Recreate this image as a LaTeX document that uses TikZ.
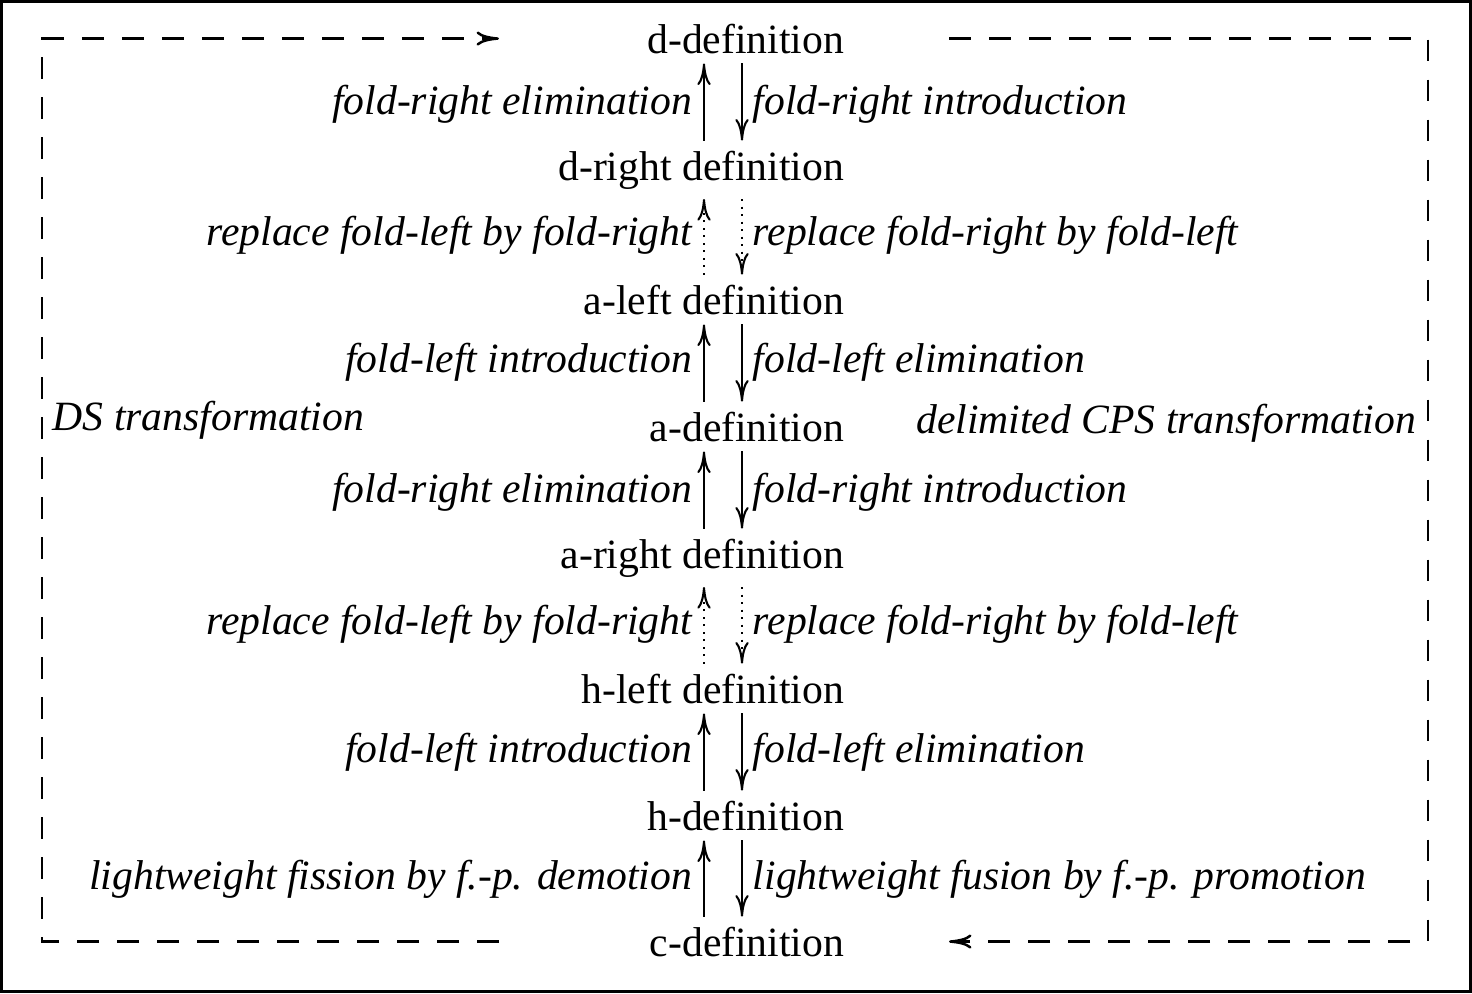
\documentclass[tikz,border=0pt]{standalone}
\usepackage{fontspec}
\setmainfont{Liberation Serif}
\usetikzlibrary{arrows.meta}
\begin{document}
\begin{tikzpicture}[x=0.24pt,y=-0.24pt,
  defn/.style={anchor=base east, inner xsep=0pt, inner ysep=2.2pt, font=\fontsize{10}{12}\selectfont},
  lab/.style={inner sep=0pt, font=\fontsize{10}{12}\selectfont\itshape},
  labl/.style={lab, anchor=base east},
  labr/.style={lab, anchor=base west},
  arr/.style={line width=0.5pt, -{To[length=5.2pt,width=3.2pt]}},
  darr/.style={arr, dash pattern=on 0.5pt off 1.3pt},
  transf/.style={line width=0.6pt, dash pattern=on 5.2pt off 4.4pt, -{To[length=5.4pt,width=3.4pt]}}
]
\useasboundingbox (0,0) rectangle (1472,993);
\draw[line width=0.7pt] (1.5,1.5) rectangle (1470.5,991.5);

\coordinate (ux) at (704,0);
\coordinate (dx) at (742,0);
\coordinate (lx) at (499,0);
\coordinate (rx) at (949,0);
\coordinate (L) at (42,0);
\coordinate (R) at (1428,0);

\node[defn] (ddef)   at (845,53)  {d-definition};
\node[defn] (dright) at (845,180) {d-right definition};
\node[defn] (aleft)  at (845,314) {a-left definition};
\node[defn] (adef)   at (845,441) {a-definition};
\node[defn] (aright) at (845,568) {a-right definition};
\node[defn] (hleft)  at (845,703) {h-left definition};
\node[defn] (hdef)   at (845,830) {h-definition};
\node[defn] (cdef)   at (845,956) {c-definition};

% row 1
\draw[arr] (dright.north -| ux) -- (ddef.south -| ux);
\draw[arr] (ddef.south -| dx) -- (dright.north -| dx);
\node[labl] (l1) at (693,114) {fold-right elimination};
\node[labr] (r1) at (752,114) {fold-right introduction};
% row 2
\draw[darr] (aleft.north -| ux) -- (dright.south -| ux);
\draw[darr] (dright.south -| dx) -- (aleft.north -| dx);
\node[labl] (l2) at (693,245) {replace fold-left by fold-right};
\node[labr] (r2) at (752,245) {replace fold-right by fold-left};
% row 3
\draw[arr] (adef.north -| ux) -- (aleft.south -| ux);
\draw[arr] (aleft.south -| dx) -- (adef.north -| dx);
\node[labl] (l3) at (693,372) {fold-left introduction};
\node[labr] (r3) at (752,372) {fold-left elimination};
% row 4
\draw[arr] (aright.north -| ux) -- (adef.south -| ux);
\draw[arr] (adef.south -| dx) -- (aright.north -| dx);
\node[labl] (l4) at (693,502) {fold-right elimination};
\node[labr] (r4) at (752,502) {fold-right introduction};
% row 5
\draw[darr] (hleft.north -| ux) -- (aright.south -| ux);
\draw[darr] (aright.south -| dx) -- (hleft.north -| dx);
\node[labl] (l5) at (693,634) {replace fold-left by fold-right};
\node[labr] (r5) at (752,634) {replace fold-right by fold-left};
% row 6
\draw[arr] (hdef.north -| ux) -- (hleft.south -| ux);
\draw[arr] (hleft.south -| dx) -- (hdef.north -| dx);
\node[labl] (l6) at (693,762) {fold-left introduction};
\node[labr] (r6) at (752,762) {fold-left elimination};
% row 7
\draw[arr] (cdef.north -| ux) -- (hdef.south -| ux);
\draw[arr] (hdef.south -| dx) -- (cdef.north -| dx);
\node[labl] (l7) at (693,889) {lightweight fission by f.-p. demotion};
\node[labr] (r7) at (752,889) {lightweight fusion by f.-p. promotion};

% side transformations
\node[lab, anchor=base west] (ds) at (52,430) {DS transformation};
\node[lab, anchor=base east] (cps) at (1417,433) {delimited CPS transformation};
\draw[transf] (cdef.west -| lx) -- (cdef.west -| L) -- (ddef.west -| L) -- (ddef.west -| lx);
\draw[transf] (ddef.west -| rx) -- (ddef.west -| R) -- (cdef.west -| R) -- (cdef.west -| rx);
\end{tikzpicture}
\end{document}
